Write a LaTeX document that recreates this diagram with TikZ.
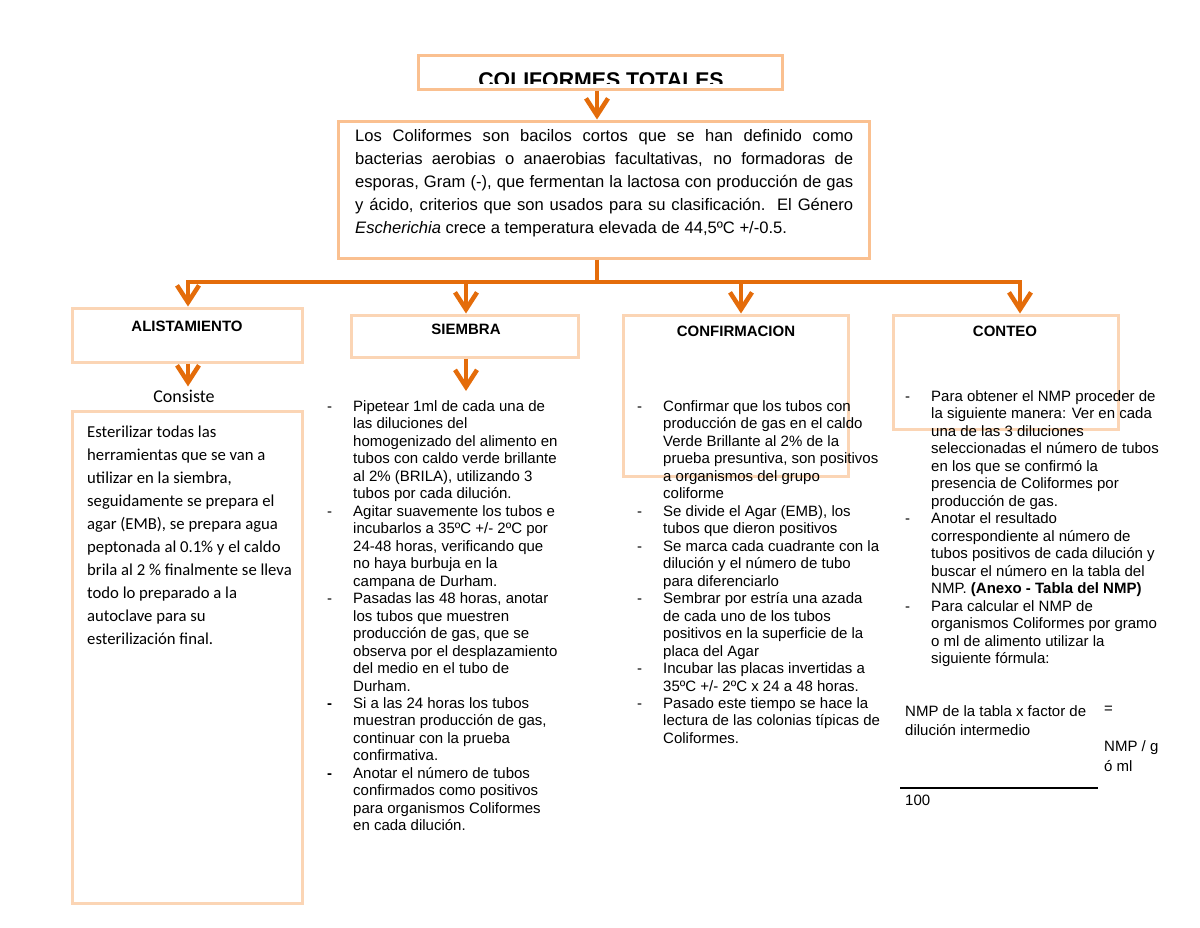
\documentclass[tikz,border=0pt]{standalone}
\usepackage{fontspec}
\setmainfont{Liberation Sans}
\newfontfamily\calibrifont{Carlito}
\usetikzlibrary{arrows.meta}
\definecolor{arrorange}{HTML}{E46C0A}
\definecolor{boxmain}{HTML}{FAC090}
\definecolor{boxcol}{HTML}{FBD5B5}
\newcommand\Bl[1]{\hbox{\hbox to 26pt{-\hfil}#1}}
\newcommand\Bb[1]{\hbox{\hbox to 26pt{\textbf{-}\hfil}#1}}
\newcommand\Cl[1]{\hbox{\hskip 26pt #1}}
\newcommand\Jl[1]{\hbox to 498pt{#1}}
\newcommand\listfont{\fontsize{15}{17.47}\selectfont}
\begin{document}
\begin{tikzpicture}[x=1pt,y=-1pt,
  mainbox/.style={draw=boxmain,line width=3pt,inner sep=0pt,rectangle},
  colbox/.style={draw=boxcol,line width=3pt,inner sep=0pt,rectangle},
  conn/.style={draw=arrorange,line width=4.5pt},
  arrconn/.style={conn,-{Straight Barb[length=17pt,width=22pt]}},
  head/.style={font=\fontsize{15}{18}\selectfont\bfseries,anchor=base,inner sep=0pt},
  txt/.style={anchor=base west,inner sep=0pt},
]
\useasboundingbox (0,0) rectangle (1200,927);
\fill[white] (0,0) rectangle (1200,927);

% boxes
\node[mainbox,minimum width=364pt,minimum height=34pt] (title) at (600,72) {};
\node[mainbox,minimum width=531pt,minimum height=137pt] (desc) at (603.5,189.5) {};
\node[colbox,minimum width=230pt,minimum height=54pt] (alist) at (187,335) {};
\node[colbox,minimum width=227pt,minimum height=42pt] (siem) at (465,336) {};
\node[colbox,minimum width=225pt,minimum height=161pt] (conf) at (735.5,395.5) {};
\node[colbox,minimum width=225pt,minimum height=114pt] (cont) at (1005.5,372) {};
\node[colbox,minimum width=230pt,minimum height=492pt] (ester) at (187,657) {};

% title text (clipped at the bottom as in the original)
\begin{scope}
\clip (418,57) rectangle (782,83.5);
\node[anchor=base,inner sep=0pt,font=\fontsize{21.3}{24}\selectfont\bfseries] (ttl) at (601,87) {COLIFORMES TOTALES};
\end{scope}

% coordinates
\coordinate (hub) at (597,282);
\coordinate (xA) at (188,0);
\coordinate (xB) at (466,0);
\coordinate (xC) at (741,0);
\coordinate (xD) at (1020,0);
\coordinate (sTip) at (466,391);

% connectors
\draw[arrconn] (title.south -| hub) -- (desc.north -| hub);
\draw[conn] (desc.south -| hub) -- (hub);
\draw[arrconn] (hub) -| (alist.north -| xA);
\draw[arrconn] (hub) -| (siem.north -| xB);
\draw[arrconn] (hub) -| (conf.north -| xC);
\draw[arrconn] (hub) -| (cont.north -| xD);

% headers
\node[head] (hA) at (187,331) {ALISTAMIENTO};
\node[head] (hB) at (466,334) {SIEMBRA};
\node[head] (hC) at (736,336) {CONFIRMACION};
\node[head] (hD) at (1005,336) {CONTEO};

\node[anchor=base,inner sep=3pt,font=\calibrifont\fontsize{18}{20}\selectfont] (cons) at (184,402) {Consiste};
\draw[arrconn] (alist.south -| xA) -- (cons.north -| xA);
\draw[arrconn] (siem.south -| xB) -- (sTip);

% description
\node[txt] (desctext) at (355,141) {\parbox[t]{498pt}{\fontsize{16.6}{23.2}\selectfont
\Jl{Los Coliformes son bacilos cortos que se han definido como}
\Jl{bacterias aerobias o anaerobias facultativas, no formadoras de}
\Jl{esporas, Gram (-), que fermentan la lactosa con producción de gas}
\Jl{y ácido, criterios que son usados para su clasificación.\ \ El Género}
\hbox{\textit{Escherichia} crece a temperatura elevada de 44,5ºC +/-0.5.}}};

% alistamiento text
\node[txt] (estertext) at (87,437) {\parbox[t]{220pt}{\calibrifont\fontsize{16.7}{23}\selectfont
\hbox{Esterilizar todas las}
\hbox{herramientas que se van a}
\hbox{utilizar en la siembra,}
\hbox{seguidamente se prepara el}
\hbox{agar (EMB), se prepara agua}
\hbox{peptonada al 0.1\% y el caldo}
\hbox{brila al 2 \% finalmente se lleva}
\hbox{todo lo preparado a la}
\hbox{autoclave para su}
\hbox{esterilización final.}}};

% siembra list
\node[txt] (siemtext) at (327,411.5) {\parbox[t]{260pt}{\listfont
\Bl{Pipetear 1ml de cada una de}
\Cl{las diluciones del}
\Cl{homogenizado del alimento en}
\Cl{tubos con caldo verde brillante}
\Cl{al 2\% (BRILA), utilizando 3}
\Cl{tubos por cada dilución.}
\Bl{Agitar suavemente los tubos e}
\Cl{incubarlos a 35ºC +/- 2ºC por}
\Cl{24-48 horas, verificando que}
\Cl{no haya burbuja en la}
\Cl{campana de Durham.}
\Bl{Pasadas las 48 horas, anotar}
\Cl{los tubos que muestren}
\Cl{producción de gas, que se}
\Cl{observa por el desplazamiento}
\Cl{del medio en el tubo de}
\Cl{Durham.}
\Bb{Si a las 24 horas los tubos}
\Cl{muestran producción de gas,}
\Cl{continuar con la prueba}
\Cl{confirmativa.}
\Bb{Anotar el número de tubos}
\Cl{confirmados como positivos}
\Cl{para organismos Coliformes}
\Cl{en cada dilución.}}};

% confirmacion list
\node[txt] (conftext) at (637,411.5) {\parbox[t]{260pt}{\listfont
\Bl{Confirmar que los tubos con}
\Cl{producción de gas en el caldo}
\Cl{Verde Brillante al 2\% de la}
\Cl{prueba presuntiva, son positivos}
\Cl{a organismos del grupo}
\Cl{coliforme}
\Bl{Se divide el Agar (EMB), los}
\Cl{tubos que dieron positivos}
\Bl{Se marca cada cuadrante con la}
\Cl{dilución y el número de tubo}
\Cl{para diferenciarlo}
\Bl{Sembrar por estría una azada}
\Cl{de cada uno de los tubos}
\Cl{positivos en la superficie de la}
\Cl{placa del Agar}
\Bl{Incubar las placas invertidas a}
\Cl{35ºC +/- 2ºC x 24 a 48 horas.}
\Bl{Pasado este tiempo se hace la}
\Cl{lectura de las colonias típicas de}
\Cl{Coliformes.}}};

% conteo list
\node[txt] (conttext) at (905,401.5) {\parbox[t]{260pt}{\listfont
\Bl{Para obtener el NMP proceder de}
\Cl{la siguiente manera: Ver en cada}
\Cl{una de las 3 diluciones}
\Cl{seleccionadas el número de tubos}
\Cl{en los que se confirmó la}
\Cl{presencia de Coliformes por}
\Cl{producción de gas.}
\Bl{Anotar el resultado}
\Cl{correspondiente al número de}
\Cl{tubos positivos de cada dilución y}
\Cl{buscar el número en la tabla del}
\Cl{NMP. \textbf{(Anexo - Tabla del NMP)}}
\Bl{Para calcular el NMP de}
\Cl{organismos Coliformes por gramo}
\Cl{o ml de alimento utilizar la}
\Cl{siguiente fórmula:}}};

% formula
\node[txt] (f1) at (905,716) {\parbox[t]{200pt}{\fontsize{15}{19}\selectfont
\hbox{NMP de la tabla x factor de}
\hbox{dilución intermedio}}};
\node[txt,font=\fontsize{15}{16}\selectfont] (feq) at (1104,713) {=};
\node[txt] (f2) at (1104,751) {\parbox[t]{60pt}{\fontsize{15}{20}\selectfont
\hbox{NMP / g}
\hbox{ó ml}}};
\draw[line width=1.5pt,black] (900,788) -- (1098,788);
\node[txt,font=\fontsize{15}{16}\selectfont] (f3) at (905,805) {100};
\end{tikzpicture}
\end{document}
